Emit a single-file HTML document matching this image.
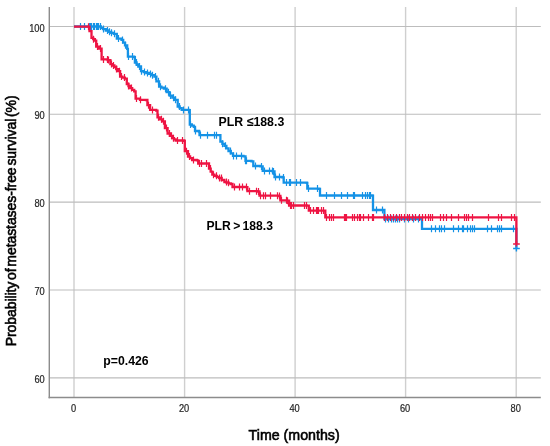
<!DOCTYPE html>
<html><head><meta charset="utf-8"><title>Kaplan-Meier</title>
<style>html,body{margin:0;padding:0;background:#fff}svg{display:block}</style></head>
<body>
<svg width="550" height="446" viewBox="0 0 550 446">
<rect width="550" height="446" fill="#fff"/>
<line x1="74.0" y1="7" x2="74.0" y2="397" stroke="#cfcfcf" stroke-width="1.4"/>
<line x1="184.6" y1="7" x2="184.6" y2="397" stroke="#cfcfcf" stroke-width="1.4"/>
<line x1="295.1" y1="7" x2="295.1" y2="397" stroke="#cfcfcf" stroke-width="1.4"/>
<line x1="405.6" y1="7" x2="405.6" y2="397" stroke="#cfcfcf" stroke-width="1.4"/>
<line x1="516.2" y1="7" x2="516.2" y2="397" stroke="#cfcfcf" stroke-width="1.4"/>
<line x1="49" y1="26.5" x2="540.8" y2="26.5" stroke="#bdbdbd" stroke-width="1.1"/>
<line x1="49" y1="114.3" x2="540.8" y2="114.3" stroke="#bdbdbd" stroke-width="1.1"/>
<line x1="49" y1="202.1" x2="540.8" y2="202.1" stroke="#bdbdbd" stroke-width="1.1"/>
<line x1="49" y1="290.0" x2="540.8" y2="290.0" stroke="#bdbdbd" stroke-width="1.1"/>
<line x1="49" y1="377.9" x2="540.8" y2="377.9" stroke="#bdbdbd" stroke-width="1.1"/>
<line x1="49.3" y1="7" x2="49.3" y2="398.2" stroke="#8c8c8c" stroke-width="1.4"/>
<line x1="48.6" y1="397.5" x2="540.8" y2="397.5" stroke="#8c8c8c" stroke-width="1.5"/>
<g fill="none" stroke-linejoin="miter">
<path d="M74.0,26.5 L98.8,26.5 L98.8,26.5 L100.9,26.5 L100.9,27.8 L103.0,27.8 L103.0,29.1 L105.8,29.1 L105.8,30.5 L108.5,30.5 L108.5,31.8 L111.2,31.8 L111.2,32.8 L113.8,32.8 L113.8,33.8 L116.8,33.8 L116.8,38.6 L121.5,38.6 L121.5,39.9 L123.2,39.9 L123.2,42.6 L125.0,42.6 L125.0,45.3 L127.2,45.3 L127.2,48.8 L127.9,48.8 L127.9,56.6 L134.2,56.6 L134.2,57.1 L134.9,57.1 L134.9,62.5 L136.6,62.5 L136.6,64.5 L138.3,64.5 L138.3,66.5 L141.0,66.5 L141.0,71.2 L143.7,71.2 L143.7,72.1 L146.3,72.1 L146.3,73.0 L149.0,73.0 L149.0,73.9 L151.7,73.9 L151.7,75.2 L154.4,75.2 L154.4,76.6 L156.4,76.6 L156.4,81.3 L159.1,81.3 L159.1,86.7 L161.4,86.7 L161.4,87.7 L163.8,87.7 L163.8,88.7 L166.7,88.7 L166.7,92.2 L169.6,92.2 L169.6,95.6 L172.3,95.6 L172.3,97.7 L175.0,97.7 L175.0,99.8 L177.7,99.8 L177.7,106.5 L179.7,106.5 L179.7,108.2 L181.7,108.2 L181.7,109.9 L189.1,109.9 L189.1,110.2 L189.8,110.2 L189.8,124.5 L191.8,124.5 L191.8,125.7 L193.8,125.7 L193.8,126.9 L195.0,126.9 L195.0,131.0 L199.0,131.0 L199.0,131.6 L199.5,131.6 L199.5,135.2 L219.0,135.2 L219.0,135.2 L220.4,135.2 L220.4,141.7 L222.4,141.7 L222.4,143.8 L224.4,143.8 L224.4,145.8 L226.4,145.8 L226.4,148.4 L228.5,148.4 L228.5,151.0 L230.8,151.0 L230.8,153.4 L233.0,153.4 L233.0,155.9 L243.5,155.9 L243.5,156.3 L245.5,156.3 L245.5,160.8 L251.5,160.8 L251.5,161.4 L253.3,161.4 L253.3,166.0 L260.4,166.0 L260.4,166.4 L262.7,166.4 L262.7,170.9 L272.6,170.9 L272.6,171.4 L274.5,171.4 L274.5,177.0 L282.2,177.0 L282.2,177.4 L283.7,177.4 L283.7,182.6 L306.8,182.6 L306.8,182.8 L307.3,182.8 L307.3,188.6 L319.2,188.6 L319.2,188.8 L320.0,188.8 L320.0,195.5 L372.4,195.5 L372.4,195.6 L373.0,195.6 L373.0,210.0 L384.0,210.0 L384.0,210.0 L384.4,210.0 L384.4,219.0 L422.0,219.0 L422.0,219.0 L422.0,219.0 L422.0,228.8 L516.4,228.8 L516.4,228.8 L516.4,228.8 L516.4,248.4" stroke="#1492e6" stroke-width="2.3"/>
<path d="M90.5,23.0 v7 M93.5,23.0 v7 M98.5,23.0 v7 M100.5,23.0 v7 M103.5,25.6 v7 M107.5,27.0 v7 M109.5,28.3 v7 M111.5,29.3 v7 M114.5,30.3 v7 M118.5,35.1 v7 M122.5,36.4 v7 M125.5,41.8 v7 M128.5,53.1 v7 M132.5,53.1 v7 M136.5,59.0 v7 M139.5,63.0 v7 M141.5,67.7 v7 M144.5,68.6 v7 M147.5,69.5 v7 M150.5,70.4 v7 M152.5,71.8 v7 M155.5,73.1 v7 M158.5,77.8 v7 M160.5,83.2 v7 M165.5,85.2 v7 M168.5,88.7 v7 M170.5,92.1 v7 M173.5,94.2 v7 M175.5,96.3 v7 M179.5,103.0 v7 M183.5,106.4 v7 M188.5,106.4 v7 M190.5,121.0 v7 M195.5,127.5 v7 M200.5,131.7 v7 M207.5,131.7 v7 M214.5,131.7 v7 M216.5,131.7 v7 M222.5,140.2 v7 M225.5,142.3 v7 M230.5,147.5 v7 M233.5,152.4 v7 M236.5,152.4 v7 M241.5,152.4 v7 M245.5,157.3 v7 M246.5,157.3 v7 M255.5,162.5 v7 M261.5,162.9 v7 M264.5,167.4 v7 M269.5,167.4 v7 M272.5,167.4 v7 M273.5,167.9 v7 M275.5,173.5 v7 M279.5,173.5 v7 M283.5,173.9 v7 M80.5,23.0 v7 M84.5,23.0 v7 M89.5,23.0 v7 M91.5,23.0 v7 M93.5,23.0 v7 M94.5,23.0 v7 M96.5,23.0 v7 M97.5,23.0 v7 M286.5,179.1 v7 M289.5,179.1 v7 M290.5,179.1 v7 M296.5,179.1 v7 M300.5,179.1 v7 M308.5,185.1 v7 M317.5,185.1 v7 M326.5,192.0 v7 M334.5,192.0 v7 M341.5,192.0 v7 M347.5,192.0 v7 M353.5,192.0 v7 M354.5,192.0 v7 M362.5,192.0 v7 M365.5,192.0 v7 M367.5,192.0 v7 M369.5,192.0 v7 M370.5,192.0 v7 M376.5,206.5 v7 M382.5,206.5 v7 M385.5,215.5 v7 M388.5,215.5 v7 M391.5,215.5 v7 M393.5,215.5 v7 M395.5,215.5 v7 M397.5,215.5 v7 M399.5,215.5 v7 M404.5,215.5 v7 M408.5,215.5 v7 M413.5,215.5 v7 M418.5,215.5 v7 M431.5,225.3 v7 M435.5,225.3 v7 M439.5,225.3 v7 M441.5,225.3 v7 M444.5,225.3 v7 M453.5,225.3 v7 M458.5,225.3 v7 M462.5,225.3 v7 M463.5,225.3 v7 M467.5,225.3 v7 M470.5,225.3 v7 M472.5,225.3 v7 M474.5,225.3 v7 M487.5,225.3 v7 M491.5,225.3 v7 M497.5,225.3 v7 M499.5,225.3 v7 M501.5,225.3 v7 M513.5,225.3 v7" stroke="#1492e6" stroke-width="1.2"/>
<path d="M513.1,248.4 h6.7 M516.4,245 v6.6" stroke="#1492e6" stroke-width="1.5"/>
<path d="M74.0,26.7 L86.8,26.7 L86.8,26.7 L89.5,26.7 L89.5,31.2 L91.5,31.2 L91.5,37.9 L93.2,37.9 L93.2,39.2 L94.9,39.2 L94.9,40.6 L96.2,40.6 L96.2,46.6 L98.9,46.6 L98.9,48.6 L101.6,48.6 L101.6,59.4 L107.7,59.4 L107.7,60.1 L110.4,60.1 L110.4,64.1 L112.4,64.1 L112.4,65.5 L114.4,65.5 L114.4,67.0 L116.2,67.0 L116.2,69.1 L118.1,69.1 L118.1,71.2 L120.1,71.2 L120.1,76.6 L122.4,76.6 L122.4,77.6 L124.8,77.6 L124.8,78.6 L126.8,78.6 L126.8,84.0 L128.5,84.0 L128.5,86.0 L130.2,86.0 L130.2,88.1 L132.2,88.1 L132.2,89.8 L134.2,89.8 L134.2,91.4 L135.6,91.4 L135.6,98.6 L140.0,98.6 L140.0,99.8 L146.0,99.8 L146.0,100.0 L147.4,100.0 L147.4,105.2 L150.1,105.2 L150.1,109.9 L156.2,109.9 L156.2,110.6 L157.5,110.6 L157.5,117.3 L159.8,117.3 L159.8,119.3 L162.2,119.3 L162.2,121.3 L164.9,121.3 L164.9,128.1 L167.6,128.1 L167.6,133.5 L169.9,133.5 L169.9,135.8 L172.3,135.8 L172.3,138.2 L174.0,138.2 L174.0,139.3 L175.7,139.3 L175.7,140.5 L184.2,140.5 L184.2,140.8 L184.8,140.8 L184.8,151.2 L188.0,151.2 L188.0,156.5 L190.1,156.5 L190.1,158.2 L192.1,158.2 L192.1,160.0 L196.8,160.0 L196.8,160.3 L198.2,160.3 L198.2,163.5 L207.8,163.5 L207.8,163.5 L209.0,163.5 L209.0,168.6 L210.7,168.6 L210.7,171.6 L212.3,171.6 L212.3,174.7 L214.5,174.7 L214.5,175.8 L216.8,175.8 L216.8,176.9 L219.0,176.9 L219.0,178.0 L221.7,178.0 L221.7,180.0 L224.4,180.0 L224.4,182.0 L226.5,182.0 L226.5,182.7 L228.7,182.7 L228.7,183.3 L230.8,183.3 L230.8,184.0 L232.5,184.0 L232.5,187.0 L245.4,187.0 L245.4,187.1 L247.4,187.1 L247.4,191.2 L257.5,191.2 L257.5,191.5 L259.5,191.5 L259.5,195.7 L278.4,195.7 L278.4,196.0 L280.4,196.0 L280.4,200.3 L287.1,200.3 L287.1,200.7 L289.1,200.7 L289.1,205.5 L306.8,205.5 L306.8,205.7 L308.8,205.7 L308.8,210.6 L324.3,210.6 L324.3,210.6 L325.3,210.6 L325.3,217.4 L516.4,217.4 L516.4,217.4 L516.4,217.4 L516.4,244.0" stroke="#ee1443" stroke-width="2.3"/>
<path d="M88.5,23.2 v7 M93.5,35.8 v7 M97.5,43.1 v7 M100.5,45.1 v7 M103.5,55.9 v7 M107.5,55.9 v7 M108.5,56.6 v7 M111.5,60.6 v7 M113.5,62.0 v7 M116.5,65.6 v7 M119.5,67.7 v7 M121.5,73.1 v7 M124.5,74.1 v7 M128.5,82.5 v7 M131.5,84.6 v7 M136.5,95.1 v7 M140.5,96.3 v7 M148.5,101.7 v7 M152.5,106.4 v7 M158.5,113.8 v7 M161.5,115.8 v7 M163.5,117.8 v7 M166.5,124.6 v7 M169.5,130.0 v7 M171.5,132.3 v7 M173.5,134.7 v7 M177.5,137.0 v7 M182.5,137.0 v7 M186.5,147.7 v7 M189.5,153.0 v7 M193.5,156.5 v7 M199.5,160.0 v7 M201.5,160.0 v7 M206.5,160.0 v7 M210.5,165.1 v7 M213.5,171.2 v7 M216.5,172.3 v7 M219.5,174.5 v7 M221.5,174.5 v7 M226.5,178.5 v7 M228.5,179.2 v7 M234.5,183.5 v7 M239.5,183.5 v7 M242.5,183.5 v7 M246.5,183.6 v7 M249.5,187.7 v7 M256.5,187.7 v7 M258.5,188.0 v7 M260.5,192.2 v7 M263.5,192.2 v7 M265.5,192.2 v7 M270.5,192.2 v7 M277.5,192.2 v7 M279.5,192.5 v7 M281.5,196.8 v7 M286.5,196.8 v7 M287.5,197.2 v7 M290.5,202.0 v7 M291.5,202.0 v7 M293.5,202.0 v7 M304.5,202.0 v7 M306.5,202.0 v7 M310.5,207.1 v7 M313.5,207.1 v7 M316.5,207.1 v7 M317.5,207.1 v7 M318.5,207.1 v7 M321.5,207.1 v7 M323.5,207.1 v7 M326.5,213.9 v7 M329.5,213.9 v7 M331.5,213.9 v7 M333.5,213.9 v7 M344.5,213.9 v7 M345.5,213.9 v7 M346.5,213.9 v7 M352.5,213.9 v7 M354.5,213.9 v7 M357.5,213.9 v7 M359.5,213.9 v7 M360.5,213.9 v7 M363.5,213.9 v7 M368.5,213.9 v7 M372.5,213.9 v7 M373.5,213.9 v7 M384.5,213.9 v7 M387.5,213.9 v7 M390.5,213.9 v7 M393.5,213.9 v7 M396.5,213.9 v7 M399.5,213.9 v7 M401.5,213.9 v7 M404.5,213.9 v7 M407.5,213.9 v7 M409.5,213.9 v7 M412.5,213.9 v7 M415.5,213.9 v7 M419.5,213.9 v7 M422.5,213.9 v7 M425.5,213.9 v7 M428.5,213.9 v7 M430.5,213.9 v7 M432.5,213.9 v7 M440.5,213.9 v7 M443.5,213.9 v7 M446.5,213.9 v7 M451.5,213.9 v7 M458.5,213.9 v7 M464.5,213.9 v7 M466.5,213.9 v7 M468.5,213.9 v7 M472.5,213.9 v7 M488.5,213.9 v7 M498.5,213.9 v7 M501.5,213.9 v7 M511.5,213.9 v7 M514.5,213.9 v7" stroke="#ee1443" stroke-width="1.2"/>
<path d="M513.1,244 h6.7 M516.4,241 v5.6" stroke="#ee1443" stroke-width="1.5"/>
</g>
<g font-family="'Liberation Sans', Arial, sans-serif" fill="#262626" font-size="10.1" stroke="#262626" stroke-width="0.2">
<text transform="translate(44.7,31.6) scale(0.92,1)" text-anchor="end">100</text>
<text transform="translate(44.7,119.4) scale(0.92,1)" text-anchor="end">90</text>
<text transform="translate(44.7,207.2) scale(0.92,1)" text-anchor="end">80</text>
<text transform="translate(44.7,295.1) scale(0.92,1)" text-anchor="end">70</text>
<text transform="translate(44.7,383.0) scale(0.92,1)" text-anchor="end">60</text>
<text transform="translate(73.5,412.2) scale(0.92,1)" text-anchor="middle">0</text>
<text transform="translate(184.1,412.2) scale(0.92,1)" text-anchor="middle">20</text>
<text transform="translate(294.6,412.2) scale(0.92,1)" text-anchor="middle">40</text>
<text transform="translate(405.1,412.2) scale(0.92,1)" text-anchor="middle">60</text>
<text transform="translate(515.7,412.2) scale(0.92,1)" text-anchor="middle">80</text>
</g>
<g font-family="'Liberation Sans', Arial, sans-serif" fill="#000">
<text transform="translate(248.6,440) scale(0.968,1)" font-size="14.7" stroke="#000" stroke-width="0.6">Time (months)</text>
<text transform="translate(15.6,346.3) rotate(-90) scale(0.96,1)" font-size="14.6" stroke="#000" stroke-width="0.6" word-spacing="-2.1" letter-spacing="-0.08">Probability of metastases-free survival (%)</text>
<text transform="translate(218.6,126.2) scale(0.955,1)" font-size="12.9" font-weight="bold">PLR ≤188.3</text>
<text transform="translate(206.5,229.5) scale(0.935,1)" font-size="13" font-weight="bold" word-spacing="-1.1">PLR &gt; 188.3</text>
<text transform="translate(103.3,365.4) scale(0.95,1)" font-size="12.9" font-weight="bold">p=0.426</text>
</g>
</svg>
</body></html>
